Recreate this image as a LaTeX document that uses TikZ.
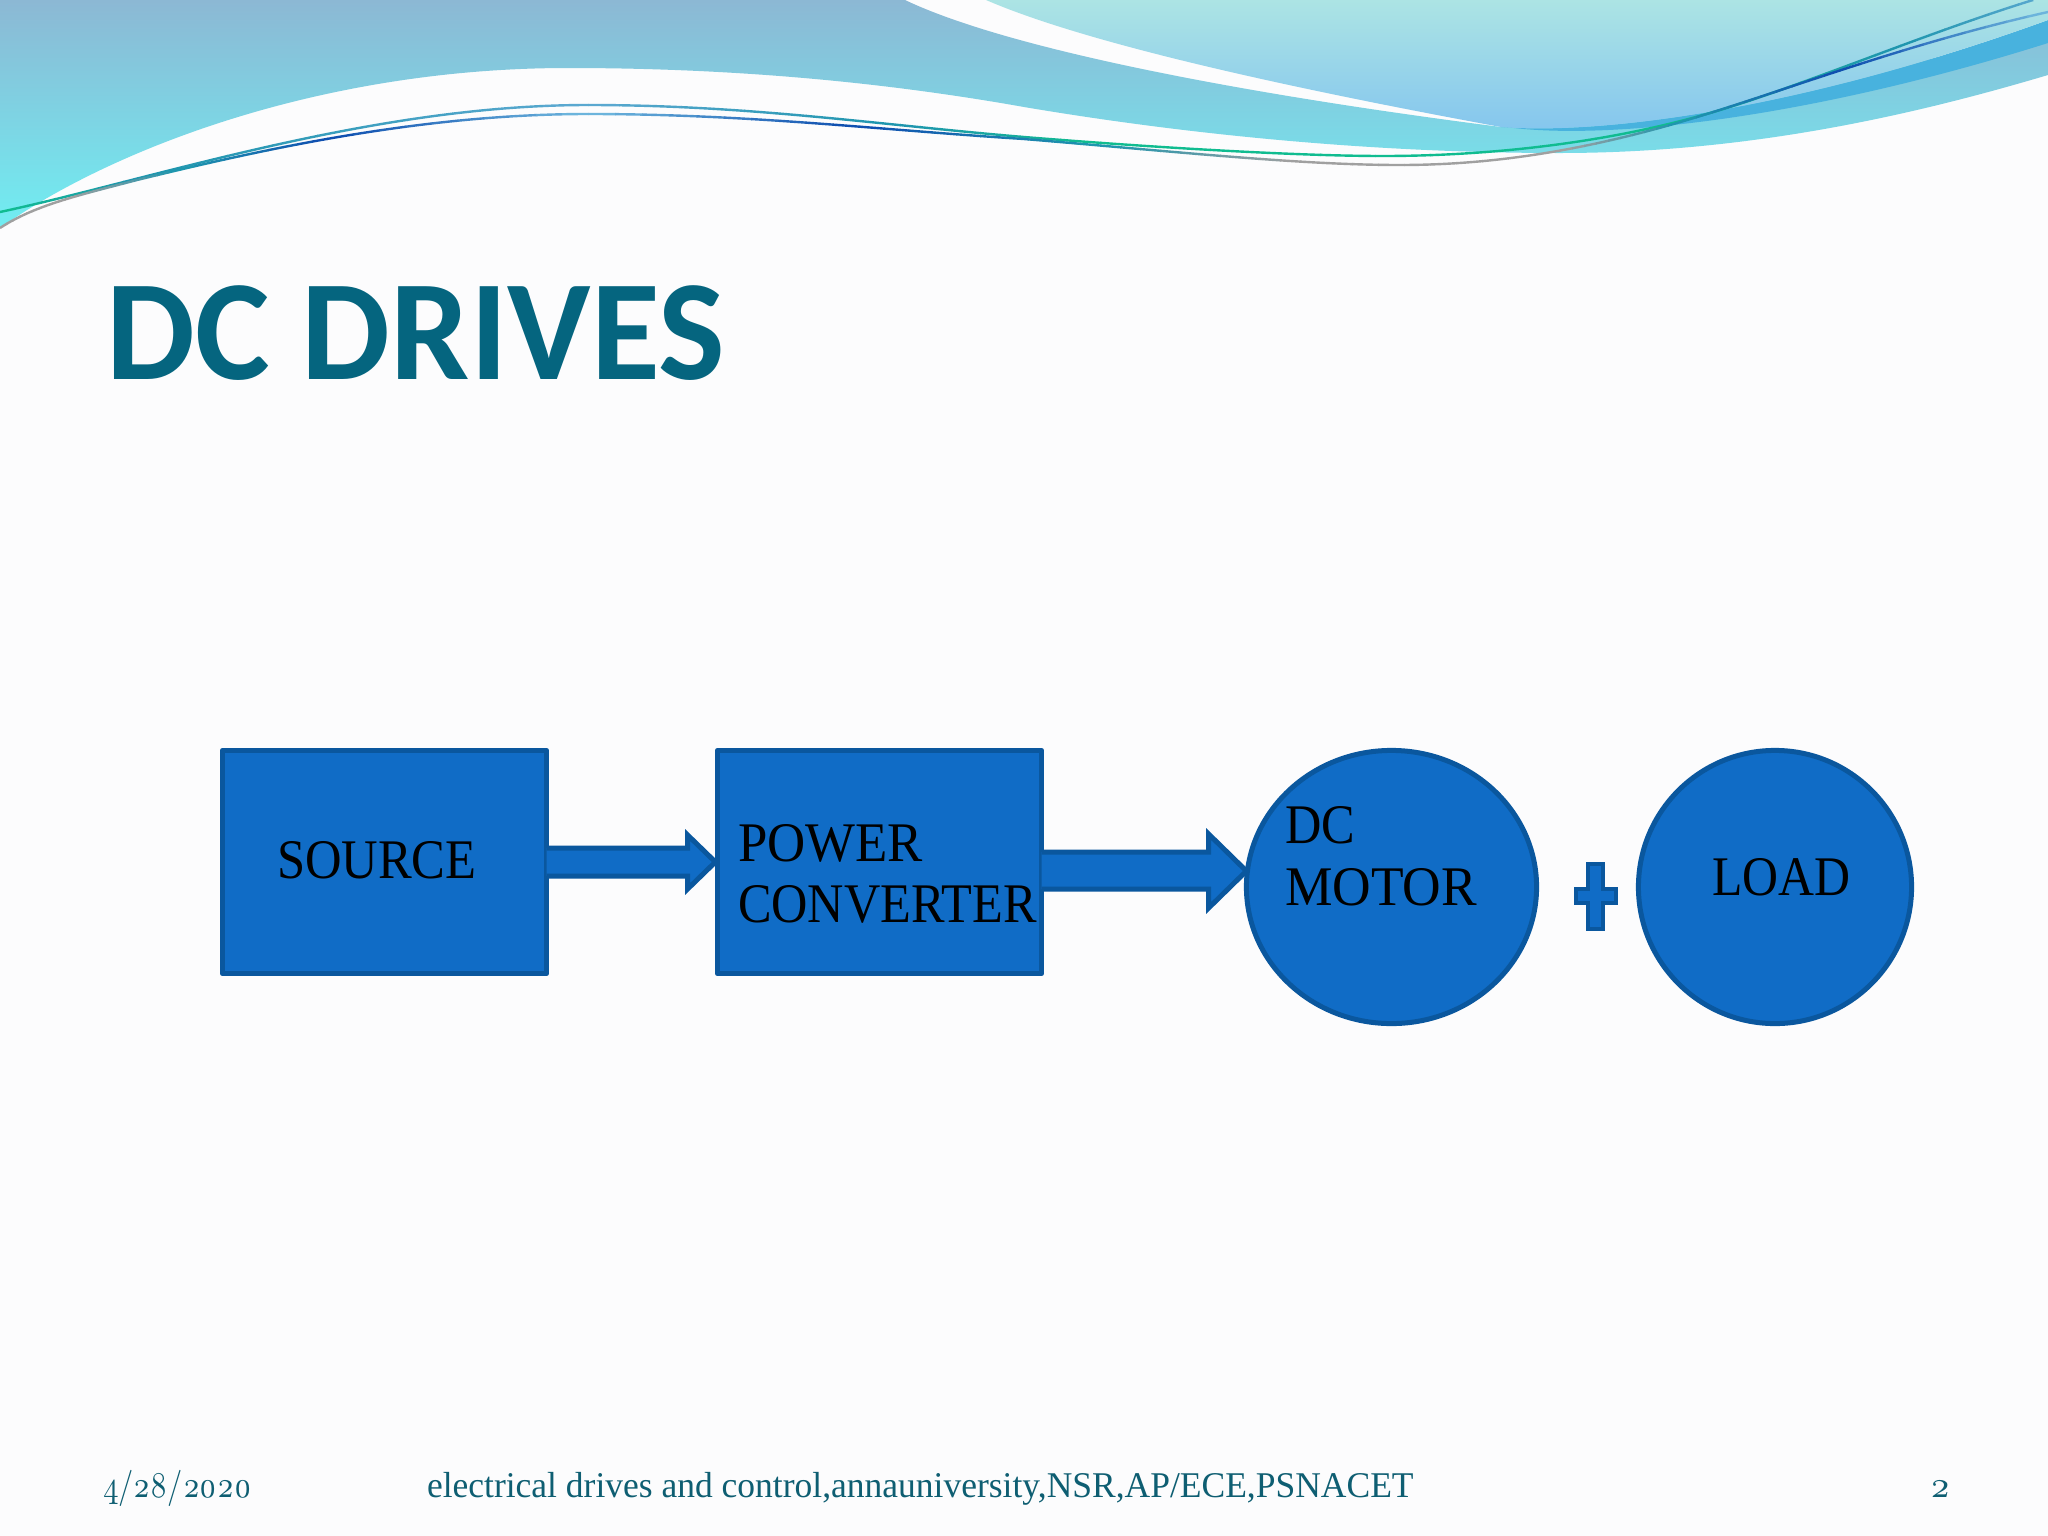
\documentclass[tikz,border=0pt]{standalone}
\usepackage{fontspec}
\setmainfont{Liberation Serif}
\newfontfamily\titlefont{Carlito}
\newfontfamily\oldnums[Numbers=OldStyle]{Latin Modern Roman}
\usetikzlibrary{calc,shapes.geometric}
\definecolor{bgc}{HTML}{FCFCFD}
\definecolor{fillb}{HTML}{106CC6}
\definecolor{strokeb}{HTML}{0A579E}
\definecolor{titlec}{HTML}{05657F}
\definecolor{footc}{HTML}{0E5E72}
\definecolor{maintop}{HTML}{8CB8D4}
\definecolor{mainbot}{HTML}{70EEF2}
\definecolor{sectop}{HTML}{ACE4E4}
\definecolor{secbot}{HTML}{85C6EE}
\definecolor{bandc}{HTML}{48B2DE}
\definecolor{cgreen}{HTML}{10BC90}
\definecolor{cteal}{HTML}{1F96AE}
\definecolor{csky}{HTML}{5AA8D0}
\definecolor{cblue}{HTML}{1050B0}
\definecolor{cgray}{HTML}{A0A0A0}
\definecolor{clight}{HTML}{6CB4DC}
\tikzset{
  boxstyle/.style={draw=strokeb,fill=fillb,line width=0.05cm,line join=round,inner sep=0pt,outer sep=0pt},
  rectbox/.style={boxstyle,rectangle,minimum width=3.24cm,minimum height=2.23cm},
  circbox/.style={boxstyle,ellipse,minimum height=2.73cm},
  blockarrow/.style={draw=strokeb,fill=fillb,line width=0.05cm,line join=miter},
  lab/.style={anchor=base west,inner sep=0pt,outer sep=0pt,text=black,font=\fontsize{15.9pt}{16pt}\selectfont},
  foot/.style={anchor=base west,inner sep=0pt,outer sep=0pt,text=footc,font=\fontsize{10.3pt}{11pt}\selectfont}
}
\newcommand\gcurve[2]{%
  \foreach \xa/\xb/\ca/\cb in {#2}{%
    \foreach \i in {0,...,9}{%
      \pgfmathsetmacro\lx{\xa+(\xb-\xa)*\i/10}%
      \pgfmathsetmacro\rx{\xa+(\xb-\xa)*(\i+1)/10+0.5}%
      \pgfmathsetmacro\pc{\i*100/9}%
      \begin{scope}
        \clip (\lx,-5) rectangle (\rx,240);
        \draw[line width=0.024cm,color={\cb!\pc!\ca}] #1;
      \end{scope}
    }%
  }%
}
\begin{document}
\begin{tikzpicture}[x=0.01cm,y=-0.01cm]
\fill[bgc] (0,0) rectangle (2048,1536);
\useasboundingbox (0,0) rectangle (2048,1536);
% main wave
\begin{scope}
\clip (0,0) -- (905,0) .. controls (1010,50) and (1250,95) .. (1501,127) -- (2048,40) -- (2048,75)
  .. controls (1930,110) and (1760,153) .. (1560,153)
  .. controls (1350,153) and (1160,130) .. (1024,107)
  .. controls (900,85) and (750,68) .. (568,68)
  .. controls (320,68) and (110,150) .. (0,228) -- cycle;
\shade[top color=maintop,bottom color=mainbot] (0,0) rectangle (2048,230);
\end{scope}
% darker band
\fill[bandc] (1514,128) .. controls (1620,140) and (1820,115) .. (2048,43) -- (2048,20)
  .. controls (1800,110) and (1600,135) .. (1501,127) -- cycle;
% second wave
\begin{scope}
\clip (986,0) .. controls (1090,45) and (1300,90) .. (1501,127)
  .. controls (1600,135) and (1800,110) .. (2048,20) -- (2048,0) -- cycle;
\shade[top color=sectop,bottom color=secbot] (900,0) rectangle (2048,130);
\end{scope}
% thin curves
\gcurve{(0,212) .. controls (150,180) and (370,105) .. (588,105) .. controls (750,105) and (880,125) .. (1024,137) .. controls (1160,148) and (1300,156) .. (1383,156) .. controls (1480,156) and (1600,145) .. (1710,113) .. controls (1800,87) and (1920,35) .. (2033,0)}
  {0/137/cgreen/cteal,137/588/cteal/csky,588/900/csky/cteal,900/1100/cteal/cgreen,1100/1650/cgreen/cgreen,1650/1900/cgreen/cteal,1900/2048/cteal/csky}
\gcurve{(0,228) .. controls (35,205) and (80,195) .. (137,180) .. controls (260,150) and (420,114) .. (588,114) .. controls (750,114) and (880,130) .. (1024,139) .. controls (1180,152) and (1300,165) .. (1400,165) .. controls (1500,165) and (1590,148) .. (1677,123) .. controls (1780,93) and (1900,45) .. (2048,12)}
  {0/65/cgray/cgray,65/180/cgray/cteal,180/327/cteal/cblue,327/588/cblue/clight,588/860/clight/cblue,860/1100/cblue/cteal,1100/1300/cteal/cgray,1300/1560/cgray/cgray,1560/1680/cgray/cteal,1680/1840/cteal/cblue,1840/2048/cblue/clight}
% title
\node[anchor=base west,inner sep=0pt,text=titlec,font=\titlefont\bfseries\fontsize{40.7pt}{41pt}\selectfont] (title) at (106,379) {\scalebox{.985}[1]{DC DRIVES}};
% shapes
\node[rectbox] (src) at (384.5,862) {};
\node[rectbox] (pc) at (879.5,862) {};
\node[circbox,minimum width=2.90cm] (mot) at (1391.5,887) {};
\node[circbox,minimum width=2.73cm] (load) at (1775,887) {};
% block arrows
\draw[blockarrow] ([shift={(0,-14)}]src.east) -- ([shift={(141,-14)}]src.east) -- ([shift={(141,-27)}]src.east)
  -- ([shift={(-2,0)}]pc.west) -- ([shift={(141,27)}]src.east) -- ([shift={(141,14)}]src.east) -- ([shift={(0,14)}]src.east);
\draw[blockarrow] ([shift={(0,-10)}]pc.east) -- ([shift={(167,-10)}]pc.east) -- ([shift={(167,-28)}]pc.east)
  -- ([shift={(0,-16)}]mot.west) -- ([shift={(167,46)}]pc.east) -- ([shift={(167,27)}]pc.east) -- ([shift={(0,27)}]pc.east);
% plus
\draw[boxstyle,line width=0.045cm,line join=miter] (1588,864) -- (1603,864) -- (1603,889) -- (1616,889) -- (1616,903) -- (1603,903) -- (1603,929) -- (1588,929) -- (1588,903) -- (1576,903) -- (1576,889) -- (1588,889) -- cycle;
% labels
\node[lab] (l1) at (277,878) {\scalebox{.905}[1]{SOURCE}};
\node[lab] (l2) at (738,861) {\scalebox{.945}[1]{POWER}};
\node[lab] (l3) at (738,922) {\scalebox{.9}[1]{CONVERTER}};
\node[lab] (l4) at (1285,843) {\scalebox{.9}[1]{DC}};
\node[lab] (l5) at (1285,905) {\scalebox{.955}[1]{MOTOR}};
\node[lab] (l6) at (1712,895) {\scalebox{.89}[1]{LOAD}};
% footer
\node[foot] (f1) at (103,1497) {\scalebox{.84}[1]{\oldnums 4/28/2020}};
\node[foot] (f2) at (427,1497) {\scalebox{.98}[1]{electrical drives and control,annauniversity,NSR,AP/ECE,PSNACET}};
\node[foot] (f3) at (1930,1497) {\oldnums 2};
\end{tikzpicture}
\end{document}
